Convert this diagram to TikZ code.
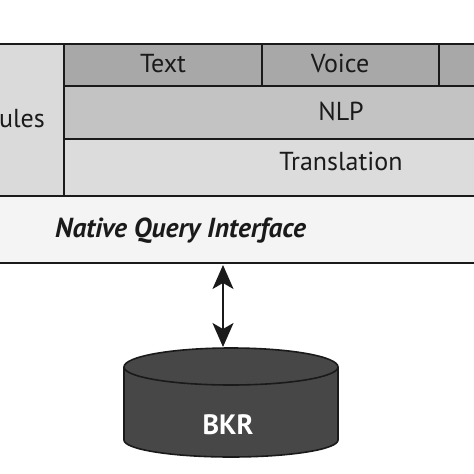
\documentclass[tikz,border=0pt]{standalone}
\usepackage{fontspec}
\setmainfont{PT Sans}
\usetikzlibrary{arrows.meta}
\definecolor{rowA}{HTML}{A8A8A8}
\definecolor{rowB}{HTML}{C3C3C3}
\definecolor{rowC}{HTML}{DCDCDC}
\definecolor{colM}{HTML}{DADADA}
\definecolor{band}{HTML}{F4F4F4}
\definecolor{db}{HTML}{474747}
\definecolor{ink}{HTML}{1A1A1A}
\tikzset{
  frame/.style={draw=ink, line width=2pt},
  lbl/.style={anchor=base, inner sep=0pt, text=ink, font=\fontsize{26}{28}\selectfont},
  tip/.tip={Stealth[length=24pt,width=21pt,inset=6pt]},
}
\begin{document}
\begin{tikzpicture}[x=1pt,y=-1pt]
\useasboundingbox (0,0) rectangle (474,474);
% fills
\fill[colM] (0,44) rectangle (64,196);
\fill[rowA] (64,44) rectangle (474,86);
\fill[rowB] (64,86) rectangle (474,139);
\fill[rowC] (64,139) rectangle (474,196);
\fill[band] (0,196) rectangle (474,263);
% lines
\draw[frame] (0,44) -- (474,44);
\draw[frame] (64,86) -- (474,86);
\draw[frame] (64,139) -- (474,139);
\draw[frame] (0,196) -- (474,196);
\draw[frame] (0,263) -- (474,263);
\draw[frame] (64,44) -- (64,196);
\draw[frame] (262,44) -- (262,86);
\draw[frame] (439,44) -- (439,86);
% labels
\node[lbl] (txt) at (163,72) {Text};
\node[lbl] (voice) at (340,72) {Voice};
\node[lbl] (nlp) at (341,120) {NLP};
\node[lbl] (trans) at (341,170) {Translation};
\node[lbl, anchor=base east] (mod) at (45,127) {ules};
\node[lbl, anchor=base west, font=\fontsize{27.5}{30}\selectfont\bfseries\itshape] (nqi) at (55,237) {Native Query Interface};
% database cylinder
\filldraw[fill=db, draw=ink, line width=1.6pt]
  (124,367) -- (124,440) arc[start angle=180, end angle=0, x radius=107, y radius=17]
  -- (338,367) arc[start angle=0, end angle=-180, x radius=107, y radius=19] -- cycle;
\draw[ink, line width=1.6pt] (124,367) arc[start angle=180, end angle=0, x radius=107, y radius=18];
\node[lbl, text=white, font=\fontsize{28}{30}\selectfont\bfseries] (bkr) at (228,434) {BKR};
\coordinate (bandbot) at (223,265);
\coordinate (dbtop) at (223,347);
\draw[ink, line width=1.6pt, tip-tip] (bandbot) -- (dbtop);
\end{tikzpicture}
\end{document}
